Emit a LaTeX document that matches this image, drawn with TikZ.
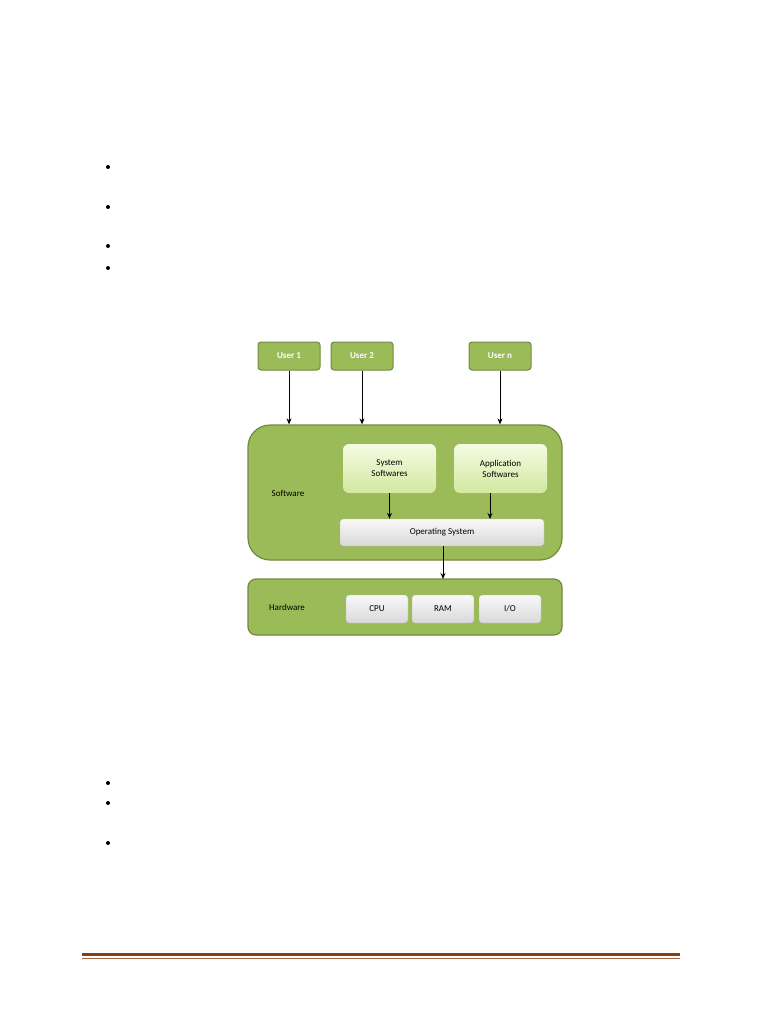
\documentclass[tikz,border=0pt]{standalone}
\usepackage{fontspec}
\setmainfont{Carlito}
\usetikzlibrary{arrows.meta}
\definecolor{gfill}{HTML}{9BBB59}
\definecolor{gdraw}{HTML}{71893F}
\definecolor{lgtop}{HTML}{F5FBE3}
\definecolor{lgbot}{HTML}{D3E8A0}
\definecolor{brn}{HTML}{8B3E0F}
\tikzset{
 big/.style={rectangle,rounded corners=22pt,fill=gfill,draw=gdraw,line width=1.2pt},
 usr/.style={rectangle,rounded corners=3pt,fill=gfill,draw=gdraw,line width=1pt,minimum width=62pt,minimum height=28pt,text=white,font=\bfseries\small},
 lg/.style={rectangle,rounded corners=6pt,top color=lgtop,bottom color=lgbot,draw=none,minimum width=93pt,minimum height=49pt,align=center,font=\small},
 gr/.style={rectangle,rounded corners=3pt,top color=gray!5,bottom color=gray!30,draw=gray!60,minimum height=27pt,font=\small},
 arr/.style={-{Stealth[length=6pt,width=5pt]},line width=1pt},
 bul/.style={circle,fill=black,inner sep=0pt,minimum size=4pt}
}
\begin{document}
\begin{tikzpicture}[x=1pt,y=-1pt]
\useasboundingbox (0,0) rectangle (768,1024);
\node[big,minimum width=314pt,minimum height=135pt] (sw) at (405,492.5) {};
\node[big,rounded corners=8pt,minimum width=314pt,minimum height=56pt] (hw) at (405,607) {};
\node[usr] (u1) at (289,356) {User 1};
\node[usr] (u2) at (362,356) {User 2};
\node[usr] (un) at (500,356) {User n};
\node[lg] (ss) at (389.5,468.5) {System\\Softwares};
\node[lg] (as) at (500.5,468.5) {Application\\Softwares};
\node[gr,minimum width=204pt] (os) at (442,532.5) {Operating System};
\node[gr,minimum width=62pt,minimum height=28pt] (cpu) at (377,609) {CPU};
\node[gr,minimum width=62pt,minimum height=28pt] (ram) at (443,609) {RAM};
\node[gr,minimum width=62pt,minimum height=28pt] (io) at (510,609) {I/O};
\node[font=\small] (swl) at (288,493) {Software};
\node[font=\small] (hwl) at (287,607) {Hardware};
\draw[arr] (u1.south) -- (u1.south |- sw.north);
\draw[arr] (u2.south) -- (u2.south |- sw.north);
\draw[arr] (un.south) -- (un.south |- sw.north);
\draw[arr] (ss.south) -- (ss.south |- os.north);
\draw[arr] (as.south -| 490,0) -- (490,519);
\draw[arr] (os.south -| 443,0) -- (443,579);
\foreach \yy [count=\i] in {167,207,246,268,783,803,843} \node[bul] (b\i) at (108,\yy) {};
\coordinate (la) at (82,954); \coordinate (lb) at (680,954);
\coordinate (lc) at (82,958.5); \coordinate (ld) at (680,958.5);
\draw[brn,line width=3pt] (la) -- (lb);
\draw[brn!80,line width=1pt] (lc) -- (ld);
\end{tikzpicture}
\end{document}
